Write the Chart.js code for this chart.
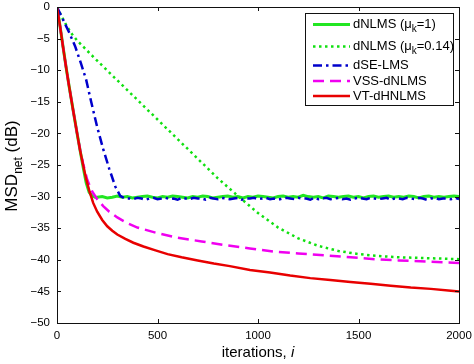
<!DOCTYPE html>
<html>
<head>
<meta charset="utf-8">
<script src="https://cdn.jsdelivr.net/npm/chart.js@4.4.0/dist/chart.umd.min.js"></script>
<style>
  body { margin: 0; background: #fff; }
  canvas { display: block; }
</style>
</head>
<body>
<canvas id="msdChart" width="474" height="364"></canvas>
<script>
// x axis / y axis ticks
var xTicks = [0, 500, 1000, 1500, 2000];
var yTicks = [0, -5, -10, -15, -20, -25, -30, -35, -40, -45, -50];

// dNLMS (mu_k = 1): fast drop, then flat noisy floor
var greenIter = [0, 15, 30, 45, 60, 80, 100, 115, 130, 145, 160, 175, 190];
var greenMsd  = [0, -3, -6.3, -9.5, -12.5, -16.3, -20, -22.7, -25.3, -27.8, -29.3, -29.9, -30.1];
var greenFlatStart = 200, greenFlatStep = 25;
var greenFlat = [
  -30.1, -30.0, -30.2, -30.1, -29.9, -30.1, -30.0, -30.2, -30.1, -30.0,
  -29.9, -30.1, -30.2, -30.0, -30.1, -29.9, -30.0, -30.1, -30.2, -30.0,
  -30.1, -29.9, -30.0, -30.2, -30.1, -30.0, -29.9, -30.1, -30.0, -30.2,
  -30.0, -30.1, -29.9, -30.0, -30.1, -30.2, -30.0, -29.9, -30.1, -30.0,
  -30.1, -29.8, -30.0, -30.1, -30.0, -30.2, -29.9, -30.0, -30.1, -30.0,
  -29.9, -30.1, -30.0, -30.2, -30.0, -29.9, -30.1, -30.0, -29.9, -30.1,
  -30.0, -30.1, -29.9, -30.0, -30.2, -30.0, -29.9, -30.1, -30.0, -30.1,
  -30.0, -29.9, -30.0
];

// dNLMS (mu_k = 0.14)
var dottedIter = [0, 25, 50, 75, 100, 150, 200, 300, 400, 500, 600, 700, 800, 900, 1000, 1100, 1200, 1300, 1400, 1500, 1600, 1700, 1800, 1900, 2000];
var dottedMsd  = [0, -1.6, -3.1, -4.3, -5.3, -6.9, -8.5, -11.6, -14.7, -17.8, -20.9, -24.0, -27.1, -29.9, -32.6, -34.9, -36.6, -37.8, -38.6, -39.1, -39.4, -39.6, -39.7, -39.8, -39.9];

// dSE-LMS
var blueIter = [0, 30, 60, 90, 120, 145, 170, 200, 230, 260, 290, 315, 340];
var blueMsd  = [0, -2, -4, -6.2, -9, -11.5, -15, -19, -22.5, -25.6, -28.4, -29.9, -30.3];
var blueFlatStart = 360, blueFlatStep = 20;
var blueFlat = [
  -30.3, -30.4, -30.2, -30.3, -30.5, -30.3, -30.2, -30.4, -30.3, -30.2,
  -30.4, -30.3, -30.5, -30.2, -30.3, -30.4, -30.2, -30.3, -30.3, -30.5,
  -30.2, -30.3, -30.4, -30.2, -30.3, -30.4, -30.3, -30.2, -30.5, -30.3,
  -30.3, -30.2, -30.4, -30.3, -30.2, -30.4, -30.3, -30.5, -30.3, -30.2,
  -30.3, -30.4, -30.2, -30.3, -30.3, -30.5, -30.2, -30.4, -30.3, -30.2,
  -30.4, -30.3, -30.2, -30.4, -30.3, -30.5, -30.3, -30.2, -30.3, -30.4,
  -30.2, -30.3, -30.4, -30.3, -30.2, -30.5, -30.3, -30.3, -30.4, -30.2,
  -30.3, -30.4, -30.2, -30.3, -30.5, -30.3, -30.2, -30.4, -30.3, -30.3,
  -30.4, -30.2, -30.4
];

// VSS-dNLMS
var magIter = [0, 15, 30, 45, 60, 80, 100, 115, 130, 150, 175, 200, 230, 260, 300, 350, 400, 490, 600, 720, 840, 960, 1080, 1200, 1330, 1460, 1580, 1700, 1850, 2000];
var magMsd  = [0, -3, -6.3, -9.5, -12.5, -16.3, -20, -22.6, -24.8, -27.3, -29.2, -30.4, -31.5, -32.4, -33.3, -34.2, -34.9, -35.7, -36.5, -37.1, -37.7, -38.2, -38.7, -39.0, -39.3, -39.6, -39.9, -40.1, -40.3, -40.5];

// VT-dHNLMS
var redIter = [0, 15, 30, 45, 60, 80, 100, 115, 130, 145, 160, 180, 200, 225, 250, 275, 300, 340, 380, 430, 490, 550, 620, 700, 780, 860, 960, 1060, 1160, 1260, 1360, 1460, 1560, 1660, 1760, 1860, 1960, 2000];
var redMsd  = [0, -3, -6.3, -9.5, -12.5, -16.3, -20, -22.7, -25, -27.2, -29, -31, -32.4, -33.7, -34.7, -35.4, -36, -36.7, -37.3, -37.9, -38.5, -39.1, -39.6, -40.1, -40.6, -41.0, -41.6, -42.0, -42.5, -42.9, -43.2, -43.5, -43.8, -44.1, -44.4, -44.6, -44.9, -45.0];

var FONT = "'Liberation Sans', Arial, sans-serif";

function toPoints(xs, ys) {
    return xs.map(function (x, i) { return { x: x, y: ys[i] }; });
}
function withFlat(xs, ys, start, step, flat) {
    var pts = toPoints(xs, ys);
    flat.forEach(function (v, i) { pts.push({ x: start + i * step, y: v }); });
    return pts;
}

var datasets = [
    { label: 'VT-dHNLMS', data: toPoints(redIter, redMsd), borderColor: '#e80000', borderWidth: 2.5, order: 0 },
    { label: 'dSE-LMS', data: withFlat(blueIter, blueMsd, blueFlatStart, blueFlatStep, blueFlat), borderColor: '#0000cc', borderWidth: 2.5, borderDash: [9, 4, 2.5, 4], order: 1 },
    { label: 'VSS-dNLMS', data: toPoints(magIter, magMsd), borderColor: '#f000f0', borderWidth: 2.5, borderDash: [11, 6], order: 2 },
    { label: 'dNLMS (mu=0.14)', data: toPoints(dottedIter, dottedMsd), borderColor: '#10e010', borderWidth: 2.5, borderDash: [2.5, 3.5], order: 3 },
    { label: 'dNLMS (mu=1)', data: withFlat(greenIter, greenMsd, greenFlatStart, greenFlatStep, greenFlat), borderColor: '#22e622', borderWidth: 3, order: 4 }
];
datasets.forEach(function (d) { d.pointRadius = 0; d.fill = false; d.tension = 0; });

// legend rows: [dataset index, text parts [main, sub, main]]
var legendRows = [
    { ds: 4, y: 24.5, parts: ['dNLMS (\u03bc', 'k', '=1)'] },
    { ds: 3, y: 46.5, parts: ['dNLMS (\u03bc', 'k', '=0.14)'] },
    { ds: 1, y: 65.5, parts: ['dSE-LMS'] },
    { ds: 2, y: 81, parts: ['VSS-dNLMS'] },
    { ds: 0, y: 96, parts: ['VT-dHNLMS'] }
];

var framePlugin = {
    id: 'frame',
    afterDraw: function (chart) {
        var ctx = chart.ctx, a = chart.chartArea;
        var xs = chart.scales.x, ys = chart.scales.y;
        ctx.save();
        ctx.strokeStyle = '#111';
        ctx.lineWidth = 1;
        ctx.strokeRect(a.left + 0.5, a.top + 0.5, a.right - a.left, a.bottom - a.top);
        ctx.beginPath();
        xTicks.forEach(function (t) {
            var px = Math.round(xs.getPixelForValue(t)) + 0.5;
            ctx.moveTo(px, a.bottom); ctx.lineTo(px, a.bottom - 4);
            ctx.moveTo(px, a.top); ctx.lineTo(px, a.top + 4);
        });
        yTicks.forEach(function (t) {
            var py = Math.round(ys.getPixelForValue(t)) + 0.5;
            ctx.moveTo(a.left, py); ctx.lineTo(a.left + 4, py);
            ctx.moveTo(a.right, py); ctx.lineTo(a.right - 4, py);
        });
        ctx.stroke();

        // x title
        ctx.fillStyle = '#000';
        ctx.textBaseline = 'alphabetic';
        ctx.font = '15px ' + FONT;
        var t1 = 'iterations, ';
        ctx.font = 'italic 15px ' + FONT;
        var wi = ctx.measureText('i').width;
        ctx.font = '15px ' + FONT;
        var w1 = ctx.measureText(t1).width;
        var cx = (a.left + a.right) / 2;
        var sx = cx - (w1 + wi) / 2;
        ctx.fillText(t1, sx, 357);
        ctx.font = 'italic 15px ' + FONT;
        ctx.fillText('i', sx + w1, 357);

        // y title, rotated, with subscript
        ctx.save();
        ctx.translate(17, 166);
        ctx.rotate(-Math.PI / 2);
        ctx.font = '17px ' + FONT;
        var wa = ctx.measureText('MSD').width, wc = ctx.measureText(' (dB)').width;
        ctx.font = '12px ' + FONT;
        var wb = ctx.measureText('net').width;
        var x0 = -(wa + wb + wc) / 2;
        ctx.font = '17px ' + FONT;
        ctx.fillText('MSD', x0, 0);
        ctx.font = '12px ' + FONT;
        ctx.fillText('net', x0 + wa, 5);
        ctx.font = '17px ' + FONT;
        ctx.fillText(' (dB)', x0 + wa + wb, 0);
        ctx.restore();

        // legend box
        ctx.fillStyle = '#fff';
        ctx.fillRect(305, 13, 148, 92);
        ctx.strokeStyle = '#111';
        ctx.strokeRect(305.5, 13.5, 148, 92);
        legendRows.forEach(function (row) {
            var ds = chart.data.datasets[row.ds];
            ctx.save();
            ctx.strokeStyle = ds.borderColor;
            ctx.lineWidth = ds.borderWidth;
            ctx.setLineDash(ds.borderDash || []);
            ctx.beginPath();
            ctx.moveTo(313, row.y);
            ctx.lineTo(350, row.y);
            ctx.stroke();
            ctx.restore();
            ctx.fillStyle = '#000';
            ctx.textBaseline = 'middle';
            var tx = 353;
            row.parts.forEach(function (p, i) {
                var sub = (i === 1);
                ctx.font = (sub ? '10px ' : '13px ') + FONT;
                ctx.fillText(p, tx, row.y + (sub ? 5 : 0));
                tx += ctx.measureText(p).width;
            });
        });
        ctx.restore();
    }
};

new Chart(document.getElementById('msdChart').getContext('2d'), {
    type: 'line',
    data: { datasets: datasets },
    options: {
        responsive: false,
        animation: false,
        devicePixelRatio: 1,
        layout: { padding: { left: 0, right: 15, top: 7, bottom: 0 } },
        plugins: { legend: { display: false }, tooltip: { enabled: false } },
        scales: {
            x: {
                type: 'linear', min: 0, max: 2000,
                afterFit: function (s) { s.height = 41; s.paddingLeft = 0; s.paddingRight = 0; },
                afterBuildTicks: function (s) { s.ticks = xTicks.map(function (v) { return { value: v }; }); },
                grid: { display: false, drawTicks: false },
                border: { display: false },
                ticks: {
                    color: '#000', padding: 6, maxRotation: 0, font: { family: FONT, size: 11.5 },
                    callback: function (v) { return String(v); }
                }
            },
            y: {
                type: 'linear', min: -50, max: 0,
                afterFit: function (s) { s.width = 57; s.paddingTop = 0; s.paddingBottom = 0; },
                afterBuildTicks: function (s) { s.ticks = yTicks.map(function (v) { return { value: v }; }); },
                grid: { display: false, drawTicks: false },
                border: { display: false },
                ticks: {
                    color: '#000', padding: 7, font: { family: FONT, size: 11.5 },
                    callback: function (v) { return String(v).replace('-', '\u2212'); }
                }
            }
        }
    },
    plugins: [framePlugin]
});
</script>
</body>
</html>
